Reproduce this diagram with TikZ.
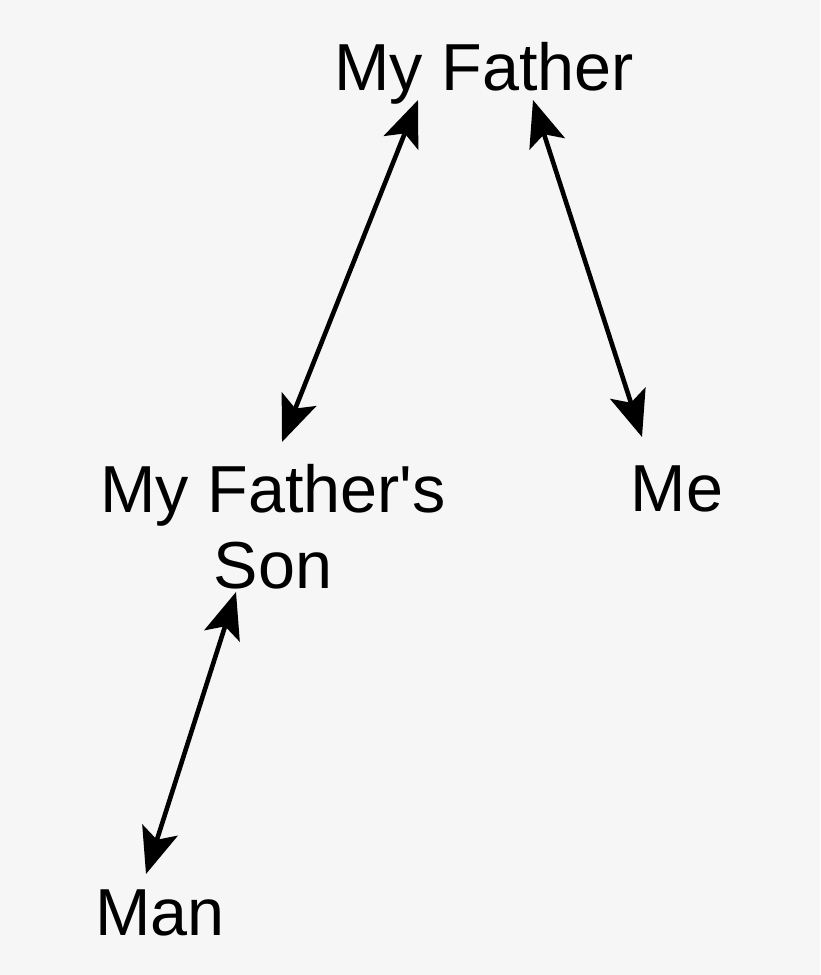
\documentclass[tikz,border=0pt]{standalone}
\usepackage{fontspec}
\setmainfont{Liberation Sans}
\usetikzlibrary{arrows.meta}
\definecolor{bg}{HTML}{F6F6F6}
\tikzset{
  lbl/.style={anchor=base, inner sep=0pt, font=\fontsize{66.5}{76}\selectfont, align=center},
  link/.style={line width=4.6pt, {Stealth[length=46pt,width=37pt,inset=10pt]}-{Stealth[length=46pt,width=37pt,inset=10pt]}}
}
\begin{document}
\begin{tikzpicture}[x=1pt,y=-1pt]
\fill[bg] (0,0) rectangle (820,975);
\useasboundingbox (0,0) rectangle (820,975);
\node[lbl] (father) at (484,90) {My Father};
\node[lbl] (son1) at (273,512) {My Father\textquotesingle s};
\node[lbl] (son2) at (273,588) {Son};
\node[lbl] (me) at (677,511) {Me};
\node[lbl] (man) at (160,935) {Man};
\coordinate (fA) at (418,100);
\coordinate (fB) at (533,100);
\coordinate (sT) at (282,442);
\coordinate (sB) at (236,592);
\coordinate (mT) at (642,437);
\coordinate (nT) at (146,874);
\draw[link] (sT) -- (fA);
\draw[link] (mT) -- (fB);
\draw[link] (nT) -- (sB);
\end{tikzpicture}
\end{document}
